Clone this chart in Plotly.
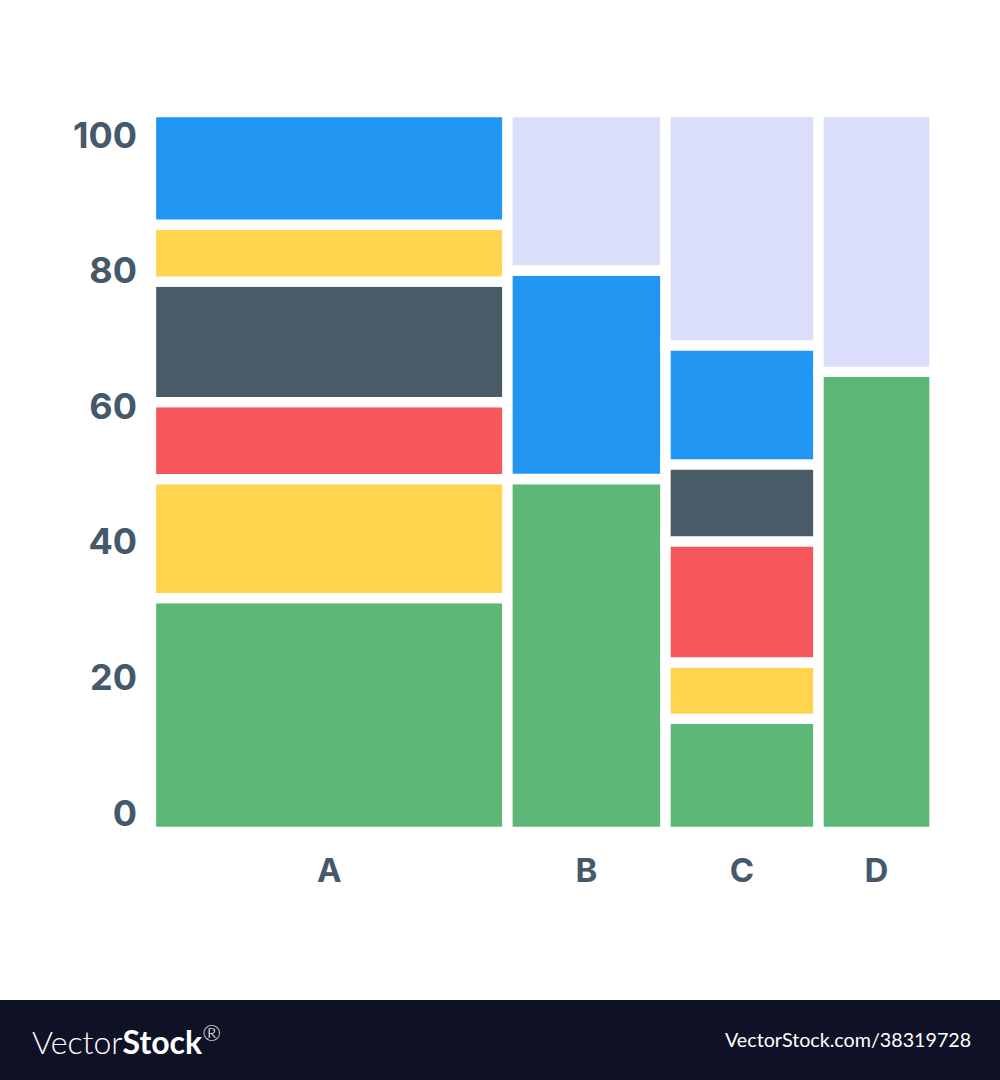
import plotly.graph_objects as go

# column shares (percent of total width)
columns = ['A', 'B', 'C', 'D']
col_widths = [45.5, 20.17, 19.53, 14.8]

# segment heights per column, bottom to top
heights_a = [34.5, 17.55, 11.36, 17.77, 8.41, 16.59]
heights_b = [52.06, 30.75, 23.38]
heights_c = [16.67, 8.33, 17.85, 11.36, 17.55, 34.44]
heights_d = [67.85, 38.35]
y_ticks = [0, 20, 40, 60, 80, 100]
stack_start = -2.8

GREEN = '#5DB776'
YELLOW = '#FFD54F'
RED = '#F6575A'
SLATE = '#495B66'
BLUE = '#2196F3'
LAVENDER = '#DADEFA'
TEXT = '#45596A'

colors_a = [GREEN, YELLOW, RED, SLATE, YELLOW, BLUE]
colors_b = [GREEN, BLUE, LAVENDER]
colors_c = [GREEN, YELLOW, RED, SLATE, BLUE, LAVENDER]
colors_d = [GREEN, LAVENDER]

fig = go.Figure()
centers = []
left = 0
for width, heights, colors in zip(col_widths,
                                  [heights_a, heights_b, heights_c, heights_d],
                                  [colors_a, colors_b, colors_c, colors_d]):
    center = left + width / 2
    centers.append(center)
    base = stack_start
    for h, c in zip(heights, colors):
        # the white outline makes the gaps between the blocks
        fig.add_trace(go.Bar(x=[center], y=[h], base=[base], width=[width],
                             marker=dict(color=c, line=dict(color='white', width=10.3)),
                             showlegend=False))
        base += h
    left += width

fig.update_layout(
    width=1000, height=1080,
    margin=dict(l=140, r=55, t=100, b=235),
    barmode='overlay',
    plot_bgcolor='white', paper_bgcolor='white',
    font=dict(family='Inter', color=TEXT),
)
fig.update_xaxes(range=[-1.404, 101.34], tickvals=centers, ticktext=columns,
                 showgrid=False, zeroline=False, showline=False, ticks='',
                 tickfont=dict(size=33, family='Inter', weight='bold', color=TEXT),
                 ticklabelstandoff=3)
fig.update_yaxes(range=[-4.72, 105.16], tickvals=y_ticks,
                 showgrid=False, zeroline=False, showline=False, ticks='',
                 tickfont=dict(size=36, family='Inter', weight='bold', color=TEXT),
                 ticklabelstandoff=2)

# dark footer band with the stock site name and image id
fig.add_shape(type='rect', xref='paper', yref='paper', x0=-0.18, x1=1.08,
              y0=-0.32, y1=-0.208, fillcolor='#0F1226', line_width=0, layer='above')
fig.add_annotation(xref='paper', yref='paper', x=-0.1366, y=-0.2617, xanchor='left',
                   yanchor='middle', text='Vector<b>Stock</b><sup>®</sup>', showarrow=False,
                   font=dict(size=32, color='white', family='Lato', weight=300))
fig.add_annotation(xref='paper', yref='paper', x=1.035, y=-0.2617, xanchor='right',
                   yanchor='middle', text='VectorStock.com/38319728', showarrow=False,
                   font=dict(size=19.7, color='white', family='Lato'))

fig.write_html("out.html", config={'displayModeBar': False},
               post_script="document.body.style.margin='0';")
